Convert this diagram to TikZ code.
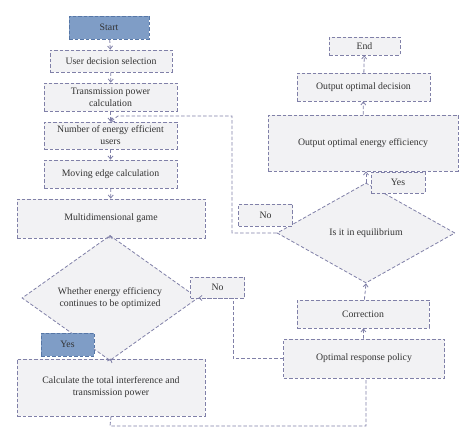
\documentclass[tikz,border=0pt]{standalone}
\usepackage{fontspec}
\setmainfont{Liberation Serif}
\usetikzlibrary{arrows.meta,shapes.geometric}

\definecolor{edgegray}{HTML}{8080A8}
\definecolor{boxfill}{HTML}{F2F2F4}
\definecolor{bluefill}{HTML}{7F9DC6}
\definecolor{blueedge}{HTML}{5676A6}
\definecolor{txtgray}{HTML}{333333}

\begin{document}
\begin{tikzpicture}[
      x=1pt, y=-1pt,
      >={Straight Barb[length=3pt,width=5pt]},
      flow/.style={->, draw=edgegray, line width=0.8pt, dash pattern=on 3.5pt off 2pt},
      link/.style={draw=edgegray, line width=0.8pt, dash pattern=on 3.5pt off 2pt},
      box/.style={draw=edgegray, fill=boxfill, line width=0.8pt,
        dash pattern=on 3.5pt off 2pt, inner sep=1pt, align=center,
        font=\fontsize{9.8}{12}\selectfont, text=txtgray},
      bluebox/.style={box, draw=blueedge, fill=bluefill},
      decision/.style={box, diamond, inner sep=0pt},
      tag/.style={box, minimum width=54pt, minimum height=21pt}
    ]
    \useasboundingbox (0,0) rectangle (474,443);

    % Left column
    \node[bluebox, minimum width=80pt, minimum height=23pt] (start) at (109,27.5) {Start};
    \node[box, minimum width=122pt, minimum height=22pt] (user) at (111,61) {User decision selection};
    \node[box, minimum width=133pt, minimum height=28pt] (trans) at (110.5,97)
      {Transmission power\\calculation};
    \node[box, minimum width=133pt, minimum height=27pt] (num) at (110.5,135.5)
      {Number of energy efficient\\users};
    \node[box, minimum width=133pt, minimum height=28pt] (moving) at (110.5,174) {Moving edge calculation};
    \node[box, minimum width=188pt, minimum height=39pt] (multi) at (111,218.5) {Multidimensional game};
    \node[decision, minimum width=176pt, minimum height=100pt] (dec1) at (110,298)
      {Whether energy efficiency\\continues to be optimized};
    \node[box, minimum width=188pt, minimum height=57pt] (calc) at (111,387.5)
      {Calculate the total interference and\\transmission power};
    \node[bluebox, minimum width=53pt, minimum height=23pt] (yes1) at (67.5,344.5) {Yes};
    \node[tag] (no1) at (217.5,287.5) {No};

    % Right column
    \node[box, minimum width=71pt, minimum height=18pt] (end) at (364.5,46) {End};
    \node[box, minimum width=133pt, minimum height=28pt] (outdec) at (363.5,87) {Output optimal decision};
    \node[box, minimum width=190pt, minimum height=56pt] (outeff) at (363,143)
      {Output optimal energy efficiency};
    \node[decision, minimum width=178pt, minimum height=100pt] (dec2) at (366,233) {Is it in equilibrium};
    \node[tag] (yes2) at (398,182.5) {Yes};
    \node[tag, minimum height=22pt] (no2) at (265.5,215) {No};
    \node[box, minimum width=132pt, minimum height=28pt] (corr) at (363,314) {Correction};
    \node[box, minimum width=161pt, minimum height=39pt] (orp) at (364,358.5) {Optimal response policy};

    % Turning points
    \coordinate (eqA) at (232,233);
    \coordinate (eqB) at (232,116);
    \coordinate (eqC) at (118,116);
    \coordinate (optA) at (233,358.5);
    \coordinate (optB) at (233,298);
    \coordinate (calcA) at (110,426);
    \coordinate (calcB) at (366,426);

    % Main flow
    \draw[flow] (start) -- (user);
    \draw[flow] (user) -- (trans);
    \draw[flow] (trans) -- (num);
    \draw[flow] (num) -- (moving);
    \draw[flow] (moving) -- (multi);
    \draw[flow] (multi) -- (dec1.north);
    \draw[flow] (dec1.south) -- (calc.north);
    \draw[link] (calc.south) -- (calcA) -- (calcB) -- (calcB |- orp.south);
    \draw[flow] (orp) -- (corr);
    \draw[flow] (corr) -- (dec2.south);
    \draw[flow] (dec2.north) -- (dec2.north |- outeff.south);
    \draw[flow] (outeff) -- (outdec);
    \draw[flow] (outdec) -- (end);

    % Loops back
    \draw[flow] (dec2.west) -- (eqA) -- (eqB) -- (eqC) -- (num.north);
    \draw[flow] (orp.west) -- (optA) -- (optB) -- (dec1.east);
  \end{tikzpicture}
\end{document}
